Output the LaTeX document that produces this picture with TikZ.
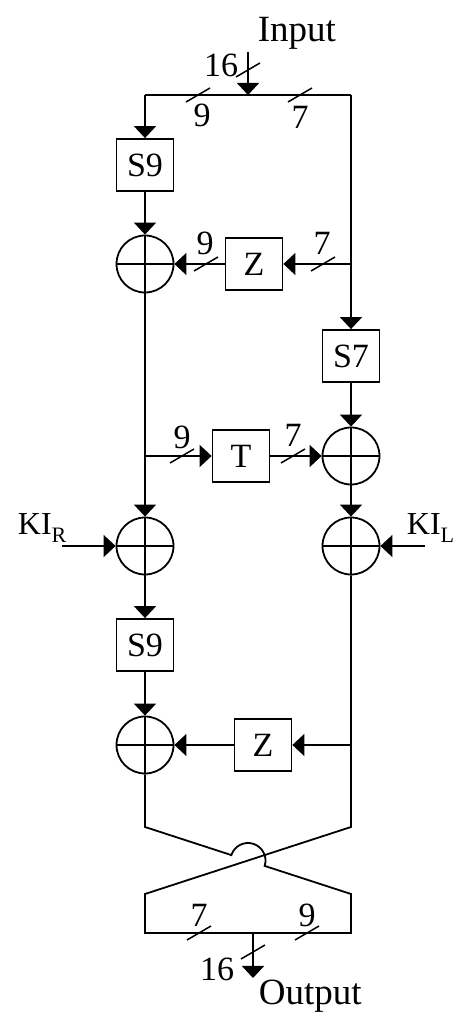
\documentclass[tikz,border=0pt]{standalone}
\usepackage{fontspec}
\setmainfont{Liberation Serif}
\usetikzlibrary{arrows.meta}
\begin{document}
\begin{tikzpicture}[x=1pt,y=1pt, line width=1.8pt,
  every node/.style={font=\fontsize{34}{40}\selectfont},
  blk/.style={draw, minimum width=57pt, minimum height=52pt, inner sep=0pt},
  xorc/.style={circle, draw, minimum size=57pt, inner sep=0pt,
    path picture={\draw[line width=1.8pt] (path picture bounding box.north) -- (path picture bounding box.south)
      (path picture bounding box.west) -- (path picture bounding box.east);}},
  arr/.style={-{Triangle[length=12pt,width=22pt]}},
  slashmk/.style={line width=1.5pt},
  big/.style={font=\fontsize{37}{44}\selectfont, inner sep=0pt},
  kilbl/.style={font=\fontsize{32}{38}\selectfont, inner sep=0pt, anchor=base west}]
\useasboundingbox (0,0) rectangle (474,1031);

% blocks
\node[blk] (S9a) at (145,866) {S9};
\node[xorc] (L1) at (145,767) {};
\node[blk] (Z1) at (254,767) {Z};
\node[blk] (S7) at (351,675) {S7};
\node[xorc] (R1) at (351,575) {};
\node[blk] (T) at (241,575) {T};
\node[xorc] (L2) at (145,485) {};
\node[xorc] (R2) at (351,485) {};
\node[blk] (S9b) at (145,386) {S9};
\node[xorc] (L3) at (145,286) {};
\node[blk] (Z2) at (263,286) {Z};

% coordinates
\coordinate (inTop) at (248,979);
\coordinate (inJ) at (248,936);
\coordinate (tL) at (145,936);
\coordinate (tR) at (351,936);
\coordinate (zJ) at (351,767);
\coordinate (tJ) at (145,575);
\coordinate (kR) at (62,485);
\coordinate (kL) at (425,485);
\coordinate (z2J) at (351,286);
\coordinate (cL) at (145,204);
\coordinate (cR) at (351,204);
\coordinate (cBL) at (145,137);
\coordinate (cBR) at (351,137);
\coordinate (C) at (248,170.5);
\coordinate (dBL) at (145,98);
\coordinate (dBR) at (351,98);
\coordinate (oTop) at (253,98);
\coordinate (oEnd) at (253,53);

% slash positions
\coordinate (s1) at (248,961);
\coordinate (s2) at (198,936);
\coordinate (s3) at (300,936);
\coordinate (s4) at (323,767);
\coordinate (s5) at (206,767);
\coordinate (s6) at (182,575);
\coordinate (s7) at (293,575);
\coordinate (s8) at (199,98);
\coordinate (s9) at (307,98);
\coordinate (s10) at (253,79);

% connectors
\draw[arr] (inTop) -- (inJ);
\draw (tL) -- (tR);
\draw[arr] (tL) -- (S9a.north);
\draw[arr] (S9a) -- (L1);
\draw[arr] (L1) -- (L2);
\draw[arr] (L2) -- (S9b);
\draw[arr] (S9b) -- (L3);
\draw[arr] (tR) -- (S7.north);
\draw[arr] (zJ) -- (Z1.east);
\draw[arr] (Z1) -- (L1);
\draw[arr] (S7) -- (R1);
\draw[arr] (R1) -- (R2);
\draw[arr] (tJ) -- (T.west);
\draw[arr] (T) -- (R1);
\draw[arr] (kR) -- (L2.west);
\draw[arr] (kL) -- (R2.east);
\draw[arr] (z2J) -- (Z2.east);
\draw[arr] (Z2) -- (L3);
\draw (L3.south) -- (cL) -- ([shift={(162:17.5)}]C) arc[start angle=162, end angle=-18, radius=17.5]
  -- (cBR) -- (dBR) -- (dBL) -- (cBL) -- (cR) -- (R2.south);
\draw[arr] (oTop) -- (oEnd);

% bus-width slashes
\foreach \s in {s1,s2,s3,s4,s5,s6,s7,s8,s9,s10}
  \draw[slashmk] ([shift={(-12,-7)}]\s) -- ([shift={(12,7)}]\s);

% labels
\node at (221,966) {16};
\node[big, anchor=base west] at (257,989) {Input};
\node at (202,916) {9};
\node at (300,914) {7};
\node at (205,788) {9};
\node at (322,788) {7};
\node at (182,594) {9};
\node at (293,596) {7};
\node[kilbl] at (17,496) {KI\raisebox{-8pt}{\fontsize{22}{26}\selectfont R}};
\node[kilbl] at (406,496) {KI\raisebox{-8pt}{\fontsize{22}{26}\selectfont L}};
\node at (199,116) {7};
\node at (307,116) {9};
\node at (217,62) {16};
\node[big, anchor=base west] at (258,26) {Output};
\end{tikzpicture}
\end{document}
